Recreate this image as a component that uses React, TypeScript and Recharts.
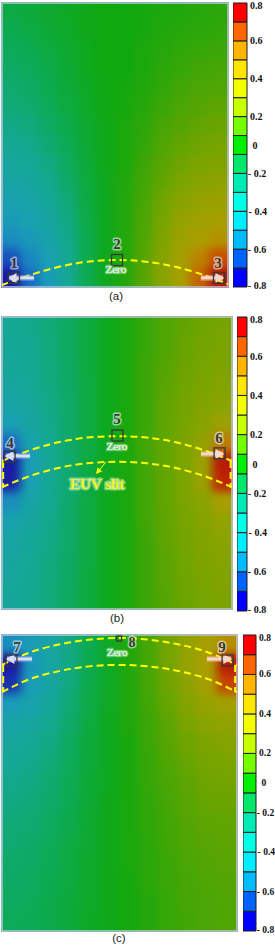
import React from 'react';
import { ComposedChart, Scatter, Line, XAxis, YAxis, ReferenceArea } from 'recharts';

// ---------- field values (rows top -> bottom, columns left -> right), in the colour-bar unit ----------
const fieldA: number[][] = [
  [-0.10, -0.08, -0.06, -0.04, -0.02, 0.00, 0.00, 0.01, 0.02, 0.03, 0.04, 0.05],
  [-0.12, -0.10, -0.07, -0.05, -0.02, 0.00, 0.00, 0.01, 0.03, 0.04, 0.05, 0.06],
  [-0.14, -0.12, -0.09, -0.06, -0.03, 0.00, 0.00, 0.02, 0.04, 0.06, 0.07, 0.08],
  [-0.16, -0.14, -0.11, -0.07, -0.03, 0.00, 0.00, 0.02, 0.05, 0.07, 0.09, 0.10],
  [-0.18, -0.16, -0.12, -0.08, -0.04, -0.01, 0.01, 0.03, 0.06, 0.09, 0.11, 0.12],
  [-0.20, -0.18, -0.14, -0.09, -0.05, -0.01, 0.01, 0.04, 0.08, 0.11, 0.13, 0.15],
  [-0.23, -0.21, -0.16, -0.11, -0.06, -0.02, 0.02, 0.05, 0.10, 0.13, 0.16, 0.18],
  [-0.26, -0.24, -0.19, -0.13, -0.07, -0.02, 0.02, 0.06, 0.12, 0.16, 0.19, 0.21],
  [-0.29, -0.27, -0.22, -0.15, -0.08, -0.02, 0.02, 0.08, 0.14, 0.19, 0.22, 0.24],
  [-0.32, -0.30, -0.25, -0.17, -0.09, -0.03, 0.03, 0.09, 0.16, 0.22, 0.26, 0.28],
  [-0.36, -0.33, -0.28, -0.20, -0.10, -0.03, 0.03, 0.10, 0.19, 0.26, 0.30, 0.32],
  [-0.40, -0.37, -0.31, -0.22, -0.11, -0.03, 0.03, 0.11, 0.21, 0.30, 0.34, 0.37],
  [-0.46, -0.41, -0.34, -0.24, -0.12, -0.03, 0.03, 0.12, 0.23, 0.33, 0.39, 0.44],
  [-0.62, -0.48, -0.38, -0.26, -0.13, -0.03, 0.03, 0.13, 0.25, 0.36, 0.48, 0.62],
  [-0.80, -0.55, -0.40, -0.27, -0.13, -0.03, 0.03, 0.13, 0.26, 0.38, 0.56, 0.78],
];

const fieldB: number[][] = [
  [-0.26, -0.24, -0.20, -0.15, -0.09, -0.03, 0.02, 0.07, 0.12, 0.16, 0.19, 0.21],
  [-0.27, -0.25, -0.21, -0.15, -0.09, -0.03, 0.02, 0.07, 0.12, 0.17, 0.20, 0.22],
  [-0.28, -0.26, -0.21, -0.16, -0.09, -0.03, 0.02, 0.08, 0.13, 0.18, 0.21, 0.23],
  [-0.30, -0.27, -0.22, -0.16, -0.10, -0.03, 0.02, 0.08, 0.14, 0.19, 0.22, 0.25],
  [-0.32, -0.29, -0.23, -0.17, -0.10, -0.03, 0.02, 0.08, 0.15, 0.20, 0.24, 0.27],
  [-0.38, -0.31, -0.24, -0.17, -0.10, -0.03, 0.02, 0.08, 0.15, 0.21, 0.26, 0.33],
  [-0.55, -0.35, -0.25, -0.18, -0.10, -0.03, 0.02, 0.09, 0.16, 0.22, 0.29, 0.50],
  [-0.80, -0.40, -0.26, -0.18, -0.10, -0.03, 0.02, 0.09, 0.16, 0.22, 0.33, 0.78],
  [-0.78, -0.38, -0.26, -0.18, -0.10, -0.03, 0.02, 0.09, 0.16, 0.22, 0.32, 0.75],
  [-0.45, -0.33, -0.25, -0.18, -0.10, -0.03, 0.02, 0.09, 0.16, 0.22, 0.27, 0.38],
  [-0.36, -0.30, -0.24, -0.17, -0.10, -0.03, 0.02, 0.09, 0.15, 0.21, 0.25, 0.30],
  [-0.32, -0.28, -0.23, -0.17, -0.10, -0.03, 0.02, 0.08, 0.15, 0.20, 0.24, 0.27],
  [-0.30, -0.27, -0.22, -0.16, -0.10, -0.03, 0.02, 0.08, 0.14, 0.19, 0.23, 0.25],
  [-0.29, -0.26, -0.21, -0.16, -0.09, -0.03, 0.02, 0.08, 0.14, 0.19, 0.22, 0.24],
  [-0.28, -0.25, -0.21, -0.15, -0.09, -0.03, 0.02, 0.08, 0.13, 0.18, 0.21, 0.23],
];

const fieldC: number[][] = [
  [-0.45, -0.40, -0.32, -0.22, -0.12, -0.04, 0.03, 0.10, 0.20, 0.30, 0.38, 0.45],
  [-0.80, -0.42, -0.32, -0.22, -0.12, -0.04, 0.03, 0.10, 0.20, 0.30, 0.40, 0.78],
  [-0.72, -0.40, -0.31, -0.21, -0.11, -0.04, 0.03, 0.10, 0.19, 0.28, 0.37, 0.66],
  [-0.40, -0.35, -0.28, -0.19, -0.10, -0.04, 0.03, 0.09, 0.17, 0.25, 0.31, 0.36],
  [-0.33, -0.30, -0.25, -0.17, -0.09, -0.03, 0.03, 0.08, 0.15, 0.22, 0.27, 0.29],
  [-0.29, -0.27, -0.22, -0.15, -0.08, -0.03, 0.02, 0.08, 0.14, 0.19, 0.23, 0.25],
  [-0.26, -0.24, -0.20, -0.14, -0.08, -0.03, 0.02, 0.07, 0.12, 0.17, 0.21, 0.22],
  [-0.24, -0.22, -0.18, -0.13, -0.07, -0.03, 0.02, 0.07, 0.11, 0.15, 0.19, 0.20],
  [-0.22, -0.20, -0.17, -0.12, -0.07, -0.02, 0.02, 0.06, 0.10, 0.14, 0.17, 0.18],
  [-0.20, -0.19, -0.15, -0.11, -0.06, -0.02, 0.02, 0.06, 0.09, 0.13, 0.15, 0.16],
  [-0.19, -0.17, -0.14, -0.10, -0.06, -0.02, 0.02, 0.05, 0.09, 0.12, 0.14, 0.15],
  [-0.17, -0.16, -0.13, -0.09, -0.05, -0.02, 0.02, 0.05, 0.08, 0.11, 0.13, 0.14],
  [-0.16, -0.15, -0.12, -0.09, -0.05, -0.02, 0.01, 0.05, 0.08, 0.10, 0.12, 0.13],
  [-0.15, -0.14, -0.11, -0.08, -0.05, -0.02, 0.01, 0.04, 0.07, 0.10, 0.11, 0.12],
  [-0.14, -0.13, -0.11, -0.08, -0.04, -0.02, 0.01, 0.04, 0.07, 0.09, 0.11, 0.12],
];

// ---------- annotations (x: 0..100 left->right, y: 0..100 top->bottom of each map) ----------
type Pt = { x: number; y: number };
type Tag = { text: string; x: number; y: number };
type Arrow = { id: string; tail: number; head: number; y: number };

const slitArcA: Pt[] = [
  { x: 0, y: 99.3 }, { x: 12.4, y: 95.8 }, { x: 25.7, y: 92.8 }, { x: 38.9, y: 91.0 }, { x: 50.9, y: 90.5 },
  { x: 62.8, y: 91.0 }, { x: 76.1, y: 92.8 }, { x: 89.4, y: 95.8 }, { x: 100, y: 99.0 },
];
const markersA = [{ id: '1', x: 5.3, y: 96.8 }, { id: '2', x: 50.9, y: 90.5 }, { id: '3', x: 96.0, y: 96.8 }];
const numbersA: Tag[] = [{ text: '1', x: 5.3, y: 91.5 }, { text: '2', x: 50.9, y: 84.9 }, { text: '3', x: 95.6, y: 91.5 }];
const zerosA: Tag[] = [{ text: 'Zero', x: 50.4, y: 93.7 }];
const arrowsA: Arrow[] = [{ id: '1', tail: 14.2, head: 3.1, y: 96.8 }, { id: '3', tail: 88.0, head: 97.8, y: 96.8 }];

const slitOuterB: Pt[] = [
  { x: 0, y: 49.3 }, { x: 10.9, y: 46.0 }, { x: 23.9, y: 43.0 }, { x: 37.0, y: 41.3 }, { x: 50.0, y: 40.8 },
  { x: 63.0, y: 41.3 }, { x: 76.1, y: 43.0 }, { x: 89.1, y: 46.0 }, { x: 100, y: 49.3 },
];
const slitInnerB: Pt[] = [
  { x: 0, y: 58.3 }, { x: 10.9, y: 54.8 }, { x: 23.9, y: 51.8 }, { x: 37.0, y: 50.1 }, { x: 50.0, y: 49.6 },
  { x: 63.0, y: 50.1 }, { x: 76.1, y: 51.8 }, { x: 89.1, y: 54.8 }, { x: 100, y: 58.3 },
];
const slitEdgesB: Pt[][] = [
  [{ x: 0.5, y: 49.3 }, { x: 0.5, y: 58.3 }],
  [{ x: 99.4, y: 49.3 }, { x: 99.4, y: 58.3 }],
];
const markersB = [{ id: '4', x: 3.3, y: 47.9 }, { id: '5', x: 50.2, y: 40.6 }, { id: '6', x: 94.6, y: 46.7 }];
const numbersB: Tag[] = [{ text: '4', x: 3.5, y: 43.2 }, { text: '5', x: 50.0, y: 34.9 }, { text: '6', x: 94.3, y: 41.4 }];
const zerosB: Tag[] = [{ text: 'Zero', x: 50.0, y: 44.2 }];
const arrowsB: Arrow[] = [{ id: '4', tail: 12.2, head: 1.7, y: 47.6 }, { id: '6', tail: 86.5, head: 96.1, y: 46.9 }];
const slitTagB: Tag[] = [{ text: 'EUV slit', x: 41.3, y: 57.2 }];
const slitPointerB: Pt[] = [{ x: 45.2, y: 49.6 }, { x: 41.3, y: 53.4 }];

const slitOuterC: Pt[] = [
  { x: 0, y: 10.1 }, { x: 11.5, y: 6.0 }, { x: 24.3, y: 3.2 }, { x: 37.0, y: 1.6 }, { x: 49.8, y: 1.0 },
  { x: 62.6, y: 1.6 }, { x: 75.3, y: 3.2 }, { x: 88.1, y: 6.0 }, { x: 100, y: 10.1 },
];
const slitInnerC: Pt[] = [
  { x: 0, y: 19.3 }, { x: 11.5, y: 15.0 }, { x: 24.3, y: 12.2 }, { x: 37.0, y: 10.6 }, { x: 49.8, y: 10.1 },
  { x: 62.6, y: 10.6 }, { x: 75.3, y: 12.2 }, { x: 88.1, y: 15.0 }, { x: 100, y: 19.3 },
];
const slitEdgesC: Pt[][] = [
  [{ x: 0.5, y: 10.1 }, { x: 0.5, y: 19.3 }],
  [{ x: 99.2, y: 10.1 }, { x: 99.2, y: 19.3 }],
];
const markersC = [{ id: '7', x: 4.0, y: 8.6 }, { id: '8', x: 49.8, y: 1.2 }, { id: '9', x: 96.0, y: 8.6 }];
const numbersC: Tag[] = [{ text: '7', x: 6.4, y: 4.1 }, { text: '8', x: 55.3, y: 2.4 }, { text: '9', x: 93.6, y: 4.1 }];
const zerosC: Tag[] = [{ text: 'Zero', x: 49.0, y: 5.6 }];
const arrowsC: Arrow[] = [{ id: '7', tail: 12.8, head: 2.1, y: 8.1 }, { id: '9', tail: 87.2, head: 97.4, y: 8.1 }];

// ---------- colour bar ----------
const binColors = [
  '#0000ff', '#0062ff', '#00bcff', '#00ecff', '#00ffe6', '#00eab4', '#00e86c', '#00f000',
  '#74ff00', '#c8ff00', '#f2ff00', '#ffe600', '#ffb400', '#ff6600', '#ff0000',
];
const cbTickPos = [0, 2, 4, 6, 7.5, 9, 11, 13, 15];
const cbTickLabels = ['- 0.8', '- 0.6', '- 0.4', '- 0.2', '0', '0.2', '0.4', '0.6', '0.8'];

// ---------- styles ----------
const SERIF = '"Liberation Serif", "Times New Roman", serif';
const SANS = '"Liberation Sans", Arial, sans-serif';
const DASH_YELLOW = '#ffff00';
const CB_PAD = 7;
const MAP_PAD = 8;

const heatStops: [number, [number, number, number]][] = [
  [-0.8, [25, 25, 160]],
  [-0.65, [25, 70, 185]],
  [-0.5, [25, 130, 195]],
  [-0.38, [25, 160, 180]],
  [-0.25, [20, 168, 145]],
  [-0.12, [12, 170, 80]],
  [0.0, [15, 168, 15]],
  [0.1, [70, 166, 5]],
  [0.2, [115, 164, 0]],
  [0.3, [148, 162, 0]],
  [0.4, [172, 158, 0]],
  [0.5, [190, 125, 0]],
  [0.62, [200, 80, 0]],
  [0.72, [195, 45, 0]],
  [0.8, [180, 20, 5]],
];

function heatColor(v: number): string {
  const t = Math.max(-0.8, Math.min(0.8, v));
  for (let i = 0; i < heatStops.length - 1; i++) {
    const [a, ca] = heatStops[i];
    const [b, cb] = heatStops[i + 1];
    if (t >= a && t <= b) {
      const f = (t - a) / (b - a);
      const c = ca.map((k, j) => Math.round(k + (cb[j] - k) * f));
      return `rgb(${c[0]},${c[1]},${c[2]})`;
    }
  }
  const c = heatStops[heatStops.length - 1][1];
  return `rgb(${c[0]},${c[1]},${c[2]})`;
}

function toCells(field: number[][]) {
  const rows = field.length;
  const cols = field[0].length;
  const out: { x: number; y: number; v: number }[] = [];
  field.forEach((row, r) =>
    row.forEach((v, c) => out.push({ x: ((c + 0.5) * 100) / cols, y: ((r + 0.5) * 100) / rows, v })),
  );
  return out;
}

const markerSizePx: Record<string, number> = { '8': 5 };

type Box = { left: number; top: number; width: number; height: number };
type PanelSpec = {
  id: string;
  field: number[][];
  plot: Box;
  bar: Box;
  barFont: number;
  caption: { text: string; cx: number; cy: number };
  arcs: Pt[][];
  edges: Pt[][];
  markers: { id: string; x: number; y: number }[];
  numbers: Tag[];
  zeros: Tag[];
  arrows: Arrow[];
  slitTags: Tag[];
  pointers: Pt[][];
};

const panels: PanelSpec[] = [
  {
    id: 'a', field: fieldA,
    plot: { left: 2, top: 3, width: 226, height: 284 },
    bar: { left: 233, top: 3, width: 14, height: 284 }, barFont: 10,
    caption: { text: '(a)', cx: 116, cy: 296 },
    arcs: [slitArcA], edges: [], markers: markersA, numbers: numbersA, zeros: zerosA, arrows: arrowsA,
    slitTags: [], pointers: [],
  },
  {
    id: 'b', field: fieldB,
    plot: { left: 2, top: 317, width: 230, height: 292 },
    bar: { left: 237, top: 317, width: 10, height: 294 }, barFont: 10,
    caption: { text: '(b)', cx: 117, cy: 618 },
    arcs: [slitOuterB, slitInnerB], edges: slitEdgesB, markers: markersB, numbers: numbersB, zeros: zerosB,
    arrows: arrowsB, slitTags: slitTagB, pointers: [slitPointerB],
  },
  {
    id: 'c', field: fieldC,
    plot: { left: 2, top: 635, width: 235, height: 296 },
    bar: { left: 243, top: 635, width: 13, height: 296 }, barFont: 9.5,
    caption: { text: '(c)', cx: 119, cy: 938 },
    arcs: [slitOuterC, slitInnerC], edges: slitEdgesC, markers: markersC, numbers: numbersC, zeros: zerosC,
    arrows: arrowsC, slitTags: [], pointers: [],
  },
];

// ---------- shapes ----------
const makeCellShape = (cw: number, ch: number) => (p: any) => (
  <rect
    x={p.cx - cw / 2 - 0.6}
    y={p.cy - ch / 2 - 0.6}
    width={cw + 1.2}
    height={ch + 1.2}
    fill={heatColor(p.payload.v)}
    stroke="none"
  />
);

const markerShape = (p: any) => {
  const s = markerSizePx[p.payload.id] ?? 11;
  return <rect x={p.cx - s / 2} y={p.cy - s / 2} width={s} height={s} fill="none" stroke="#383838" strokeWidth={1.3} />;
};

const numberShape = (p: any) => (
  <text
    x={p.cx} y={p.cy} textAnchor="middle" dominantBaseline="central"
    fontFamily={SERIF} fontWeight="bold" fontSize={p.payload.text === '8' ? 14 : 15} fill="#3a3a3a"
    stroke="rgba(255,255,255,0.55)" strokeWidth={3} strokeLinejoin="round" paintOrder="stroke"
  >
    {p.payload.text}
  </text>
);

const zeroShape = (p: any) => (
  <text
    x={p.cx} y={p.cy} textAnchor="middle" dominantBaseline="central"
    fontFamily={SERIF} fontSize={11} fill="#ffffff"
    stroke="rgba(255,255,255,0.35)" strokeWidth={2.5} strokeLinejoin="round" paintOrder="stroke"
  >
    {p.payload.text}
  </text>
);

const slitTagShape = (p: any) => (
  <text
    x={p.cx} y={p.cy} textAnchor="middle" dominantBaseline="central"
    fontFamily={SERIF} fontWeight="bold" fontSize={15} fill="#f4f41a"
    stroke="rgba(255,255,255,0.45)" strokeWidth={3} strokeLinejoin="round" paintOrder="stroke"
  >
    {p.payload.text}
  </text>
);

const emptyShape = () => <g />;

const makeArrowHead = (dir: number, color: string) => (p: any) => {
  if (p.index !== 1) return <g key={`h-${p.index}`} />;
  const tip = p.cx + dir * 1.5;
  const base = p.cx - dir * 7.5;
  return (
    <path
      key={`h-${p.index}`}
      d={`M${tip},${p.cy} L${base},${p.cy - 5} L${base},${p.cy + 5} Z`}
      fill={color}
      stroke="none"
    />
  );
};

const makePointerHead = (pts: Pt[], plot: Box) => (p: any) => {
  if (p.index !== 1) return <g key={`ph-${p.index}`} />;
  const dx = ((pts[1].x - pts[0].x) * plot.width) / 100;
  const dy = ((pts[1].y - pts[0].y) * plot.height) / 100;
  const ang = (Math.atan2(dy, dx) * 180) / Math.PI;
  return (
    <path
      key={`ph-${p.index}`}
      d="M1.5,0 L-4.5,-3 L-4.5,3 Z"
      transform={`translate(${p.cx},${p.cy}) rotate(${ang})`}
      fill={DASH_YELLOW}
    />
  );
};

const makeCbTick = (fontSize: number) => (p: any) => {
  const idx = cbTickPos.indexOf(p.payload.value);
  const label = cbTickLabels[idx] ?? '';
  let dx = label.startsWith('-') ? 0.8 : 3;
  if (label === '0') dx = 5.5;
  if (label === '- 0.4') dx = 1.6;
  let dy = 0;
  if (idx === cbTickPos.length - 1) dy = 2.5;
  if (idx === 0) dy = -1.5;
  return (
    <text
      x={p.x + dx} y={p.y + dy} textAnchor="start" dominantBaseline="central"
      fontFamily={SERIF} fontWeight="bold" fontSize={fontSize} fill="#111"
    >
      {label}
    </text>
  );
};

function ColorBar({ bar, fontSize }: { bar: Box; fontSize: number }) {
  const centers = binColors.map((_, i) => ({ x: 0.5, y: i + 0.5 }));
  const Tick = makeCbTick(fontSize);
  return (
    <div style={{ position: 'absolute', left: bar.left, top: bar.top - CB_PAD }}>
      <ComposedChart
        width={bar.width + 30}
        height={bar.height + 2 * CB_PAD}
        margin={{ top: CB_PAD, right: 0, bottom: CB_PAD, left: 0 }}
      >
        <XAxis type="number" dataKey="x" domain={[0, 1]} hide allowDataOverflow />
        <YAxis
          type="number" dataKey="y" domain={[0, 15]} orientation="right" width={30}
          ticks={cbTickPos} interval={0} tick={<Tick />} axisLine={false} tickLine={false}
          tickSize={0} tickMargin={0} allowDataOverflow
        />
        {binColors.map((c, i) => (
          <ReferenceArea
            key={`bin-${i}`} x1={0} x2={1} y1={i} y2={i + 1} fill={c} fillOpacity={1}
            stroke="#1c1c1c" strokeWidth={1} ifOverflow="visible"
          />
        ))}
        <Scatter data={centers} shape={emptyShape} isAnimationActive={false} />
      </ComposedChart>
    </div>
  );
}

function HeatPanel({ spec }: { spec: PanelSpec }) {
  const { plot } = spec;
  const rows = spec.field.length;
  const cols = spec.field[0].length;
  const cells = toCells(spec.field);
  const cellShape = makeCellShape(plot.width / cols, plot.height / rows);
  return (
    <>
      <div style={{ position: 'absolute', left: plot.left - MAP_PAD, top: plot.top - MAP_PAD }}>
        <ComposedChart
          width={plot.width + 2 * MAP_PAD}
          height={plot.height + 2 * MAP_PAD}
          margin={{ top: MAP_PAD, right: MAP_PAD, bottom: MAP_PAD, left: MAP_PAD }}
        >
          <XAxis type="number" dataKey="x" domain={[0, 100]} hide />
          <YAxis type="number" dataKey="y" domain={[0, 100]} reversed hide />
          <Scatter
            className="heat-cells" data={cells} shape={cellShape} isAnimationActive={false}
            {...({ zIndex: -10 } as any)}
          />
          <ReferenceArea x1={0} x2={100} y1={0} y2={100} fill="none" stroke="#b9c3de" strokeWidth={1.5} ifOverflow="visible" />
          {spec.arcs.map((a, i) => (
            <Line
              key={`arc-${i}`} data={a} dataKey="y" type="natural" stroke={DASH_YELLOW} strokeWidth={2}
              strokeDasharray="7 4" dot={false} activeDot={false} isAnimationActive={false}
            />
          ))}
          {spec.edges.map((e, i) => (
            <Line
              key={`edge-${i}`} data={e} dataKey="y" type="linear" stroke={DASH_YELLOW} strokeWidth={2}
              strokeDasharray="7 4" dot={false} activeDot={false} isAnimationActive={false}
            />
          ))}
          {spec.pointers.map((pp, i) => (
            <Line
              key={`ptr-${i}`} data={pp} dataKey="y" type="linear" stroke={DASH_YELLOW} strokeWidth={1}
              dot={makePointerHead(pp, plot)} activeDot={false} isAnimationActive={false}
            />
          ))}
          {spec.arrows.map((a) => {
            const dir = a.head > a.tail ? 1 : -1;
            const body = dir > 0 ? '#f2d9cf' : '#d9def0';
            const glow = dir > 0 ? 'rgba(255,190,160,0.45)' : 'rgba(150,170,255,0.45)';
            const d = [{ x: a.tail, y: a.y }, { x: a.head, y: a.y }];
            return (
              <React.Fragment key={`arrow-${a.id}`}>
                <Line
                  data={d} dataKey="y" type="linear" stroke={glow} strokeWidth={6} dot={false}
                  activeDot={false} isAnimationActive={false}
                />
                <Line
                  data={d} dataKey="y" type="linear" stroke={body} strokeWidth={3}
                  dot={makeArrowHead(dir, body)} activeDot={false} isAnimationActive={false}
                />
              </React.Fragment>
            );
          })}
          <Scatter data={spec.markers} shape={markerShape} isAnimationActive={false} />
          <Scatter data={spec.numbers} shape={numberShape} isAnimationActive={false} />
          <Scatter data={spec.zeros} shape={zeroShape} isAnimationActive={false} />
          {spec.slitTags.length > 0 && (
            <Scatter data={spec.slitTags} shape={slitTagShape} isAnimationActive={false} />
          )}
        </ComposedChart>
      </div>
      <ColorBar bar={spec.bar} fontSize={spec.barFont} />
      <div
        style={{
          position: 'absolute', left: spec.caption.cx - 30, width: 60, top: spec.caption.cy - 7,
          height: 14, lineHeight: '14px', textAlign: 'center', fontFamily: SANS, fontSize: 11.5, color: '#222',
        }}
      >
        {spec.caption.text}
      </div>
    </>
  );
}

export default function App() {
  return (
    <div style={{ position: 'absolute', left: 0, top: 0, width: 275, height: 945, background: '#ffffff', overflow: 'hidden' }}>
      <style>{`.heat-cells { filter: url(#heatSmooth); }`}</style>
      <svg width={0} height={0} style={{ position: 'absolute', left: 0, top: 0 }}>
        <defs>
          <filter id="heatSmooth" x="0" y="0" width="1" height="1" colorInterpolationFilters="sRGB">
            <feGaussianBlur stdDeviation={5} edgeMode="duplicate" />
            <feComponentTransfer>
              <feFuncA type="linear" slope={0} intercept={1} />
            </feComponentTransfer>
          </filter>
        </defs>
      </svg>
      {panels.map((p) => (
        <HeatPanel key={p.id} spec={p} />
      ))}
    </div>
  );
}
